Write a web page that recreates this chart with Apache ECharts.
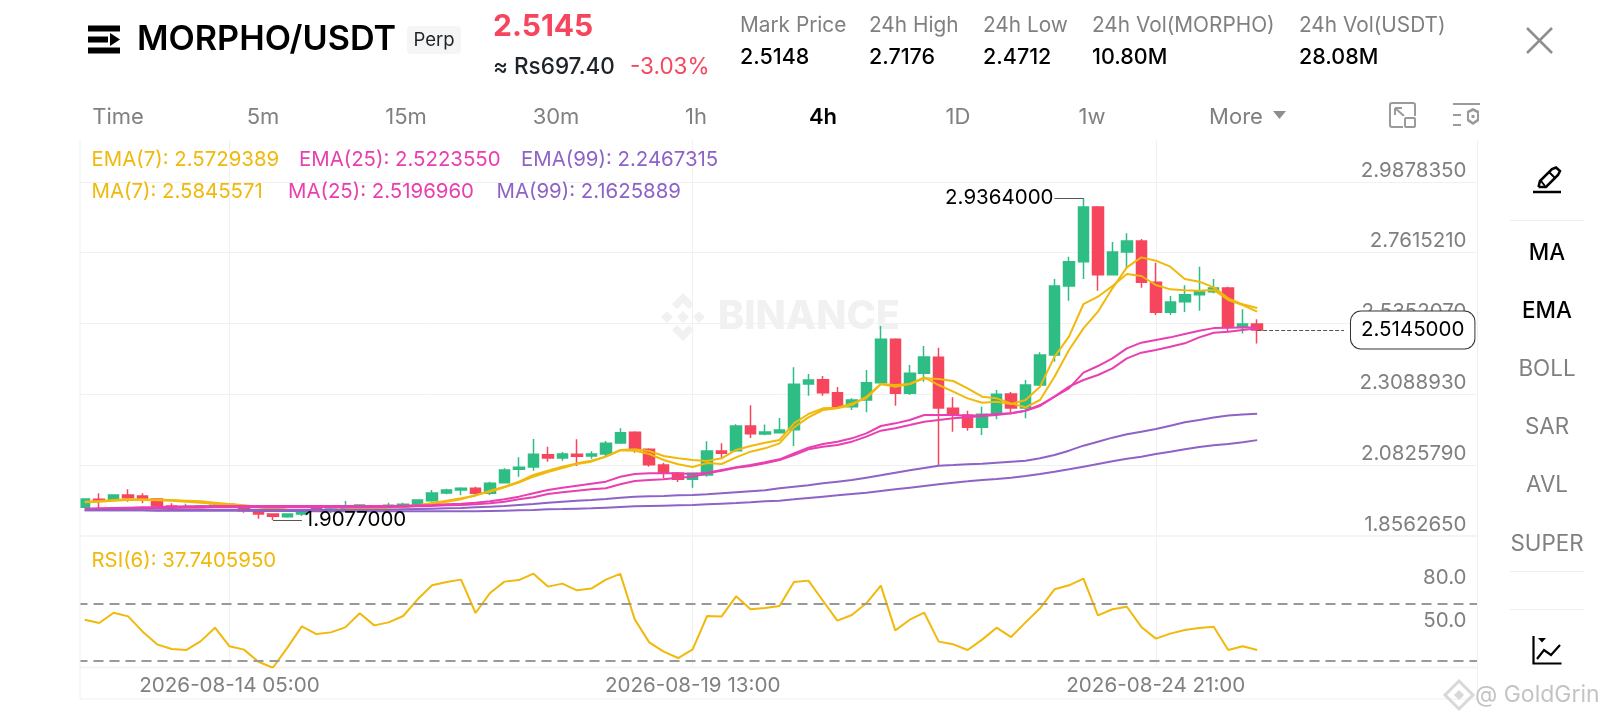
<!DOCTYPE html>
<html><head><meta charset="utf-8">
<style>html,body{margin:0;padding:0;background:#fff}#c{width:1612px;height:720px}</style>
<script src="https://cdn.jsdelivr.net/npm/echarts@6/dist/echarts.min.js"></script>
</head><body><div id="c"></div>
<script>
const FONT='Inter';
// [open, close, low, high], 4h candles, index 0..81
const candleRows=[
[1.9479,1.9745,1.9447,1.9766],[1.9734,1.9681,1.9447,1.9926],[1.9713,1.9873,1.9681,1.9894],[1.9873,1.9788,1.9660,2.0054],
[1.9841,1.9756,1.9606,1.9926],[1.9745,1.9521,1.9500,1.9745],[1.9521,1.9479,1.9447,1.9606],[1.9479,1.9500,1.9447,1.9596],
[1.9500,1.9521,1.9480,1.9553],[1.9521,1.9543,1.9500,1.9628],[1.9575,1.9500,1.9479,1.9596],[1.9500,1.9372,1.9308,1.9521],
[1.9372,1.9266,1.9117,1.9394],[1.9266,1.9191,1.9077,1.9287],[1.9181,1.9266,1.9149,1.9287],[1.9266,1.9340,1.9202,1.9372],
[1.9479,1.9394,1.9340,1.9521],[1.9394,1.9426,1.9287,1.9521],[1.9426,1.9479,1.9394,1.9681],[1.9426,1.9553,1.9394,1.9575],
[1.9521,1.9447,1.9426,1.9543],[1.9479,1.9543,1.9447,1.9628],[1.9500,1.9575,1.9447,1.9628],[1.9543,1.9713,1.9521,1.9734],
[1.9692,1.9937,1.9660,2.0032],[1.9937,2.0032,1.9894,2.0075],[2.0032,2.0086,1.9873,2.0118],[2.0086,1.9926,1.9873,2.0139],
[1.9926,2.0245,1.9873,2.0299],[2.0267,2.0672,2.0245,2.0725],[2.0693,2.0757,2.0458,2.1076],[2.0767,2.1172,2.0650,2.1662],
[2.1161,2.1055,2.0938,2.1417],[2.1055,2.1183,2.0970,2.1247],[2.1172,2.1108,2.0799,2.1651],[2.1119,2.1183,2.1034,2.1268],
[2.1183,2.1524,2.1098,2.1598],[2.1534,2.1864,2.1502,2.2003],[2.1875,2.1353,2.1225,2.1907],[2.1332,2.0842,2.0778,2.1364],
[2.0831,2.0586,2.0405,2.0906],[2.0565,2.0373,2.0288,2.0608],[2.0373,2.0565,2.0107,2.0597],[2.0512,2.1278,2.0458,2.1587],
[2.1278,2.1204,2.1012,2.1524],[2.1289,2.2077,2.1257,2.2131],[2.2077,2.1832,2.1694,2.2738],[2.1821,2.1886,2.1779,2.2124],
[2.1864,2.1950,2.1843,2.2333],[2.1960,2.3409,2.1438,2.3952],[2.3419,2.3547,2.3046,2.3739],[2.3558,2.3142,2.3046,2.3675],
[2.3142,2.2695,2.2642,2.3323],[2.2695,2.2908,2.2589,2.2961],[2.2908,2.3462,2.2514,2.3866],[2.3462,2.4846,2.3387,2.5272],
[2.4846,2.3121,2.2727,2.4878],[2.3121,2.3760,2.3068,2.4026],[2.3760,2.4282,2.3494,2.4633],[2.4271,2.2652,2.0799,2.4580],
[2.2642,2.2429,2.1896,2.2993],[2.2429,2.2035,2.1928,2.2567],[2.2035,2.2450,2.1790,2.2695],[2.2461,2.3089,2.2290,2.3228],
[2.3100,2.2652,2.2503,2.3164],[2.2652,2.3387,2.2322,2.3547],[2.3387,2.4346,2.3355,2.4431],[2.4346,2.6550,2.4133,2.6774],
[2.6550,2.7328,2.6082,2.7488],[2.7328,2.9074,2.6774,2.9364],[2.9074,2.6912,2.6401,2.9106],[2.6912,2.7637,2.6890,2.7956],
[2.7637,2.7988,2.7115,2.8233],[2.7988,2.6667,2.6497,2.8052],[2.6667,2.5709,2.5624,2.7296],[2.5709,2.6039,2.5624,2.6231],
[2.6050,2.6273,2.5720,2.6572],[2.6273,2.6369,2.5762,2.7168],[2.6369,2.6486,2.6316,2.6774],[2.6486,2.5240,2.5091,2.6529],
[2.5251,2.5336,2.5037,2.5804],[2.5336,2.5145,2.4712,2.5485]];
const ma7=[1.9660,1.9681,1.9713,1.9734,1.9734,1.9724,1.9713,1.9692,1.9670,1.9628,1.9585,1.9543,1.9500,1.9447,1.9404,1.9383,1.9383,1.9394,1.9404,1.9426,1.9447,1.9468,1.9500,1.9543,1.9617,1.9692,1.9766,
1.9851,2.0011,2.0139,2.0299,2.0512,2.0650,2.0778,2.0884,2.0970,2.1098,2.1311,2.1332,2.1279,2.1119,2.1044,2.0991,2.0959,2.1044,2.1311,2.1438,2.1545,2.1630,2.2163,2.2461,2.2642,2.2663,2.2801,
2.2961,2.3419,2.3387,2.3419,2.3600,2.3579,2.3515,2.3281,2.3015,2.2961,2.2801,2.2674,2.2908,2.3654,2.4505,2.5198,2.5730,2.6476,2.7147,2.7466,2.7360,2.7168,2.6774,2.6689,2.6508,2.6156,2.5965,2.5845571];
const ema7=[1.9638,1.9660,1.9692,1.9713,1.9713,1.9702,1.9692,1.9660,1.9628,1.9596,1.9564,1.9532,1.9479,1.9426,1.9394,1.9383,1.9394,1.9404,1.9415,1.9436,1.9457,1.9479,1.9500,1.9532,1.9585,1.9660,1.9734,
1.9873,1.9979,2.0118,2.0267,2.0458,2.0608,2.0735,2.0863,2.0938,2.1098,2.1300,2.1289,2.1183,2.0991,2.0853,2.0767,2.0895,2.0863,2.1076,2.1257,2.1364,2.1524,2.2035,2.2354,2.2589,2.2642,2.2748,
2.3015,2.3419,2.3334,2.3419,2.3632,2.3387,2.3174,2.2961,2.2823,2.2855,2.2780,2.2908,2.3334,2.4293,2.4932,2.5975,2.6209,2.6550,2.6934,2.6870,2.6582,2.6444,2.6412,2.6401,2.6423,2.6103,2.5943,2.5729389];
const ema25=[1.9436,1.9447,1.9457,1.9468,1.9479,1.9489,1.9500,1.9511,1.9511,1.9521,1.9521,1.9521,1.9521,1.9521,1.9521,1.9521,1.9521,1.9521,1.9521,1.9521,1.9521,1.9521,1.9532,1.9543,1.9553,1.9575,1.9596,
1.9628,1.9670,1.9734,1.9820,1.9926,2.0033,2.0107,2.0171,2.0235,2.0299,2.0458,2.0544,2.0565,2.0565,2.0565,2.0544,2.0586,2.0672,2.0757,2.0831,2.0916,2.1012,2.1204,2.1385,2.1502,2.1577,2.1683,
2.1843,2.2077,2.2162,2.2269,2.2429,2.2429,2.2429,2.2408,2.2418,2.2461,2.2482,2.2567,2.2716,2.3015,2.3281,2.3781,2.3994,2.4239,2.4559,2.4740,2.4825,2.4910,2.5017,2.5123,2.5205,2.5220,2.5225,2.5223550];
const ma25=[1.9404,1.9415,1.9426,1.9436,1.9447,1.9457,1.9457,1.9468,1.9468,1.9479,1.9479,1.9479,1.9479,1.9479,1.9479,1.9479,1.9489,1.9489,1.9489,1.9489,1.9489,1.9489,1.9500,1.9511,1.9521,1.9543,1.9553,
1.9575,1.9607,1.9660,1.9734,1.9798,1.9905,1.9958,2.0011,2.0054,2.0086,2.0214,2.0320,2.0352,2.0373,2.0427,2.0458,2.0565,2.0650,2.0746,2.0799,2.0884,2.0991,2.1151,2.1332,2.1417,2.1470,2.1577,
2.1737,2.1928,2.2003,2.2109,2.2216,2.2269,2.2322,2.2354,2.2397,2.2429,2.2482,2.2567,2.2748,2.3015,2.3334,2.3547,2.3707,2.3920,2.4239,2.4420,2.4505,2.4612,2.4719,2.4910,2.5059,2.5091,2.5145,2.5196960];
const ema99=[1.9383,1.9383,1.9383,1.9383,1.9383,1.9383,1.9394,1.9394,1.9394,1.9394,1.9394,1.9394,1.9394,1.9394,1.9394,1.9394,1.9404,1.9404,1.9404,1.9404,1.9404,1.9404,1.9415,1.9426,1.9436,1.9447,1.9457,
1.9479,1.9500,1.9521,1.9553,1.9585,1.9628,1.9660,1.9692,1.9713,1.9745,1.9787,1.9820,1.9830,1.9841,1.9862,1.9873,1.9894,1.9926,1.9958,1.9990,2.0022,2.0086,2.0139,2.0182,2.0245,2.0299,2.0352,
2.0427,2.0501,2.0586,2.0661,2.0735,2.0810,2.0831,2.0853,2.0874,2.0906,2.0938,2.0970,2.1044,2.1151,2.1289,2.1449,2.1577,2.1705,2.1811,2.1896,2.1981,2.2088,2.2195,2.2269,2.2350,2.2410,2.2445,2.2467315];
const ma99=[1.9383,1.9383,1.9383,1.9383,1.9383,1.9372,1.9372,1.9372,1.9372,1.9372,1.9372,1.9372,1.9362,1.9362,1.9362,1.9362,1.9351,1.9351,1.9351,1.9351,1.9351,1.9351,1.9351,1.9351,1.9351,1.9351,1.9351,
1.9351,1.9362,1.9372,1.9383,1.9394,1.9415,1.9425,1.9436,1.9447,1.9468,1.9489,1.9511,1.9521,1.9532,1.9543,1.9553,1.9575,1.9596,1.9617,1.9639,1.9670,1.9692,1.9734,1.9777,1.9820,1.9862,1.9905,
1.9947,2.0001,2.0054,2.0107,2.0160,2.0214,2.0267,2.0309,2.0352,2.0384,2.0427,2.0480,2.0544,2.0618,2.0693,2.0778,2.0863,2.0948,2.1034,2.1098,2.1183,2.1257,2.1332,2.1406,2.1459,2.1500,2.1560,2.1625889];
const rsi6=[59.0,56.7,63.9,61.3,50.6,41.7,38.4,37.7,43.8,53.4,40.3,38.0,29.5,25.3,39.4,54.3,48.9,50.1,53.6,63.5,55.0,57.1,61.6,73.3,83.1,85.4,87.1,63.7,77.7,85.7,86.8,91.3,82.2,84.3,79.6,80.8,87.1,91.1,59.2,43.1,
36.6,32.1,38.2,61.6,61.3,75.4,66.3,67.2,68.6,85.4,86.4,72.3,58.3,62.3,70.5,82.9,51.5,59.0,63.9,43.6,41.7,37.7,45.0,53.4,46.8,57.1,67.0,80.3,83.1,87.8,62.0,66.3,68.1,53.9,45.7,49.2,51.8,53.2,54.1,37.7,40.3,37.7405950];
const priceTicks=[1.856265,2.082579,2.308893,2.535207,2.761521,2.987835];
const rsiLabels=[50,80];
const rsiBands=[70,30];
const xTickLabels=['2026-08-14 05:00','2026-08-19 13:00','2026-08-24 21:00'];
const highPoint={i:69,v:2.9364}, lowPoint={i:13,v:1.9077}, lastPrice=2.5145;
const emaLegend=[['EMA(7): 2.5729389',91.5,'#F0B90B'],['EMA(25): 2.5223550',299,'#E93FB0'],['EMA(99): 2.2467315',521,'#8E63C7']];
const maLegend=[['MA(7): 2.5845571',91.5,'#F0B90B'],['MA(25): 2.5196960',288,'#E93FB0'],['MA(99): 2.1625889',496.5,'#8E63C7']];
const tabs=[['Time',118],['5m',263],['15m',406],['30m',556],['1h',696],['4h',823],['1D',958],['1w',1092],['More',1236]];
const sideItems=[['MA',252,1],['EMA',309.5,1],['BOLL',368,0],['SAR',426,0],['AVL',484,0],['SUPER',543,0]];
const stats=[['Mark Price','2.5148',740],['24h High','2.7176',869],['24h Low','2.4712',983],['24h Vol(MORPHO)','10.80M',1092],['24h Vol(USDT)','28.08M',1299]];

// category labels: 4h steps, with empty slots to the right of the last candle
const categories=[];
const t0=Date.UTC(2026,7,12,13);
for(let i=0;i<97;i++){const d=new Date(t0+i*4*3600e3);const p=n=>String(n).padStart(2,'0');
  categories.push(`${d.getUTCFullYear()}-${p(d.getUTCMonth()+1)}-${p(d.getUTCDate())} ${p(d.getUTCHours())}:00`);}
const showTick=(i,v)=>xTickLabels.includes(v);

const TXT='#808080', GRID='#F0F1F2';
const G=[];
const T=(text,x,y,o={})=>G.push({type:'text',z:60,style:Object.assign({text,x,y:y+1.5,fontFamily:FONT,fontSize:20.4,fill:'#000',textAlign:'left',textVerticalAlign:'middle'},o)});
const L=(x1,y1,x2,y2,stroke,lineWidth=1,z=60)=>G.push({type:'line',z,shape:{x1,y1,x2,y2},style:{stroke,lineWidth,lineCap:'butt'}});
const R=(x,y,width,height,fill,z=60,r=0)=>G.push({type:'rect',z,shape:{x,y,width,height,r},style:{fill}});
const P=(points,fill,z=60,opacity=1)=>G.push({type:'polygon',z,shape:{points},style:{fill,opacity}});
const PL=(points,stroke,lineWidth=2)=>G.push({type:'polyline',z:60,shape:{points},style:{stroke,lineWidth,fill:'none'}});

// covers so only the pane region shows
R(60,130,20,570,'#fff',50); R(1478,130,8,570,'#fff',50);
L(80,140,80,699,'#EEF0F2',1,51); L(1477.5,140,1477.5,699,'#EEF0F2',1,51); L(80,699,1477,699,'#EEF0F2',1,51);
L(80,536,1477,536,'#F3F4F5',2,1); L(80,667.5,1477,667.5,'#F3F4F5',2,1);

// logo + title
R(88,25.5,32,6,'#000'); R(88,36.5,20,6,'#000'); R(88,47.5,32,6,'#000'); P([[110,33],[120,39.5],[110,46]],'#000');
T('MORPHO/USDT',137,38.5,{fontSize:34.2,fontWeight:600});
R(407,26,54,28,'#F5F5F5',59,4);
T('Perp',434,38.5,{fontSize:18.5,fill:'#1E2329',textAlign:'center'});
T('2.5145',493,25,{fontSize:30,fontWeight:700,fill:'#F6465D'});
T('≈ Rs697.40',493,65.5,{fontSize:22.5,fontWeight:500,fill:'#1E2329'});
T('-3.03%',630,65.5,{fontSize:22.5,fill:'#F6465D'});
stats.forEach(s=>{T(s[0],s[2],24.5,{fontSize:20.8,fill:TXT});T(s[1],s[2],56,{fontSize:21.5,fontWeight:500,fill:'#000'});});
L(1527,28,1552,53,'#8E8E8E',2.5); L(1552,28,1527,53,'#8E8E8E',2.5);
// tabs
tabs.forEach(t=>T(t[0],t[1],115.5,{textAlign:'center',fontSize:22,fill:t[0]==='4h'?'#000':TXT,fontWeight:t[0]==='4h'?600:400}));
P([[1273,111],[1286,111],[1279.5,119]],'#8E8E8E');
G.push({type:'rect',z:60,shape:{x:1390,y:103,width:25,height:24,r:2},style:{fill:'none',stroke:'#9A9A9A',lineWidth:2}});
R(1403,116,13,12,'#fff',61); G.push({type:'rect',z:62,shape:{x:1405,y:118,width:10,height:9,r:1},style:{fill:'none',stroke:'#9A9A9A',lineWidth:2}});
L(1395,108,1404,116,'#9A9A9A',2); L(1395,108,1395,115,'#9A9A9A',2); L(1395,108,1402,108,'#9A9A9A',2);
L(1453,104,1480,104,'#9A9A9A',2); L(1453,115,1461,115,'#9A9A9A',2); L(1453,125,1461,125,'#9A9A9A',2);
P([[1473,108],[1479,111],[1479,121],[1473,125],[1467,121],[1467,111]],'#9A9A9A'); P([[1473,111],[1477,113],[1477,119],[1473,122],[1469,119],[1469,113]],'#fff',61); R(1471.5,115,3,3,'#9A9A9A',62);
// side panel
L(1533,192,1561,192,'#000',2.5);
PL([[1538.5,187],[1540,181],[1552,169],[1556,167.5],[1560,171],[1558,175],[1546,187],[1538.5,187]],'#000',2.5);
L(1549,172,1555,178,'#000',2); L(1541,181,1545,186,'#000',2);
L(1510,220.5,1584,220.5,'#EEEEEE',1);
sideItems.forEach(s=>T(s[0],1547,s[1],{textAlign:'center',fontSize:22.4,fill:s[2]?'#000':TXT,fontWeight:s[2]?500:400}));
L(1510,571.5,1584,571.5,'#EEEEEE',1); L(1510,609.5,1584,609.5,'#EEEEEE',1);
PL([[1533.5,636],[1533.5,663.5],[1561.5,663.5]],'#000',2.2);
PL([[1537,659],[1544,650],[1551,655],[1560,645]],'#000',2.2);
P([[1538,638],[1546,638],[1542,642.5]],'#000');
// legends
emaLegend.forEach(e=>T(e[0],e[1],158.5,{fill:e[2]}));
maLegend.forEach(e=>T(e[0],e[1],190.5,{fill:e[2]}));
T('RSI(6): 37.7405950',91.5,559.5,{fill:'#F0B90B'});
// Binance watermark (below marks)
const wmC='#F1F1F1';
const dia=(cx,cy,r,c,z)=>P([[cx,cy-r],[cx+r,cy],[cx,cy+r],[cx-r,cy]],c,z);
[[683,317,24]].forEach(([cx,cy,s])=>{
  P([[cx,cy-s],[cx+11,cy-13],[cx+6,cy-8],[cx,cy-14],[cx-6,cy-8],[cx-11,cy-13]],wmC,0);
  P([[cx,cy+s],[cx+11,cy+13],[cx+6,cy+8],[cx,cy+14],[cx-6,cy+8],[cx-11,cy+13]],wmC,0);
  dia(cx,cy,6,wmC,0); dia(cx-16,cy,6,wmC,0); dia(cx+16,cy,6,wmC,0);
});
G.push({type:'text',z:0,style:{text:'BINANCE',x:718,y:317,fontFamily:FONT,fontSize:39.5,fontWeight:800,fill:wmC,textVerticalAlign:'middle',textAlign:'left'}});
// corner watermark
const wm2='#D8D8D8';
G.push({type:'polygon',z:60,shape:{points:[[1459,681],[1473,695],[1459,709],[1445,695]]},style:{fill:'none',stroke:wm2,lineWidth:3}});
dia(1459,695,5,wm2,60);
T('@ GoldGrin',1475,693.5,{fontSize:23,fill:'#C4C4C4'});

const lineSeries=(name,data,color)=>({name,type:'line',data,xAxisIndex:0,yAxisIndex:0,showSymbol:false,symbol:'none',smooth:false,lineStyle:{color,width:2},itemStyle:{color},z:4,silent:true,animation:false});

const option={
  animation:false,backgroundColor:'#fff',
  textStyle:{fontFamily:FONT},
  grid:[{left:77.5,top:140,width:1404,height:396},{left:77.5,top:536,width:1404,height:131.3}],
  xAxis:[
   {type:'category',gridIndex:0,data:categories,axisLine:{show:false},axisTick:{show:false},axisLabel:{show:false},
    splitLine:{show:true,alignWithLabel:true,interval:showTick,lineStyle:{color:GRID,width:1}}},
   {type:'category',gridIndex:1,data:categories,axisLine:{show:false},axisTick:{show:false},
    axisLabel:{show:true,interval:showTick,color:TXT,fontSize:20.6,fontFamily:FONT,margin:8},
    splitLine:{show:true,alignWithLabel:true,interval:showTick,lineStyle:{color:GRID,width:1}}}
  ],
  yAxis:[
   {type:'value',gridIndex:0,position:'right',min:1.856265,max:3.1216,scale:true,axisLine:{show:false},
    axisTick:{show:false,customValues:priceTicks},
    axisLabel:{customValues:priceTicks,inside:true,color:TXT,fontSize:20.5,fontFamily:FONT,margin:15,verticalAlign:'bottom',padding:[0,0,1,0],
      showMinLabel:true,formatter:v=>v.toFixed(7)},
    splitLine:{show:true,lineStyle:{color:GRID,width:1}}},
   {type:'value',gridIndex:1,position:'right',min:25.6,max:117.7,axisLine:{show:false},
    axisTick:{show:false,customValues:rsiLabels},
    axisLabel:{customValues:rsiLabels,inside:true,color:TXT,fontSize:20.5,fontFamily:FONT,margin:15,verticalAlign:'bottom',padding:[0,0,1,0],formatter:v=>v.toFixed(1)},
    splitLine:{show:false}}
  ],
  series:[
   {name:'MORPHO/USDT',type:'candlestick',xAxisIndex:0,yAxisIndex:0,data:candleRows,barWidth:11,z:3,silent:true,
    itemStyle:{color:'#2EBD85',color0:'#F6465D',borderColor:'#2EBD85',borderColor0:'#F6465D',borderWidth:1.5},
    markLine:{silent:true,symbol:'none',animation:false,precision:7,
      data:[
       [{coord:[highPoint.i-2,highPoint.v],lineStyle:{color:'#555',type:'solid',width:1},label:{show:true,position:'start',formatter:highPoint.v.toFixed(7),color:'#000',fontSize:20.5,fontFamily:FONT,distance:1}},{coord:[highPoint.i,highPoint.v]}],
       [{coord:[lowPoint.i,lowPoint.v],lineStyle:{color:'#555',type:'solid',width:1},label:{show:true,position:'end',formatter:lowPoint.v.toFixed(7),color:'#000',fontSize:20.5,fontFamily:FONT,distance:3}},{coord:[lowPoint.i+2,lowPoint.v]}],
       [{coord:[81,lastPrice],lineStyle:{color:'#555',type:'dashed',width:1},label:{show:true,position:'end',formatter:lastPrice.toFixed(7),color:'#000',fontSize:20.5,fontFamily:FONT,distance:7,
          backgroundColor:'#fff',borderColor:'#333',borderWidth:1,borderRadius:10,padding:[8,10,8,10]}},{coord:[87,lastPrice]}]
      ]}},
   lineSeries('MA(7)',ma7,'#F0B90B'),lineSeries('EMA(7)',ema7,'#F0B90B'),
   lineSeries('MA(25)',ma25,'#E93FB0'),lineSeries('EMA(25)',ema25,'#E93FB0'),
   lineSeries('MA(99)',ma99,'#8E63C7'),lineSeries('EMA(99)',ema99,'#8E63C7'),
   {name:'RSI(6)',type:'line',xAxisIndex:1,yAxisIndex:1,data:rsi6,showSymbol:false,symbol:'none',lineStyle:{color:'#F0B90B',width:2},z:4,silent:true,
    markLine:{silent:true,symbol:'none',animation:false,label:{show:false},lineStyle:{color:'#999',type:[10,6],width:2},data:rsiBands.map(v=>({yAxis:v}))}}
  ],
  graphic:{elements:G}
};
const chart=echarts.init(document.getElementById('c'),null,{renderer:'canvas'});
chart.setOption(option);
</script></body></html>
